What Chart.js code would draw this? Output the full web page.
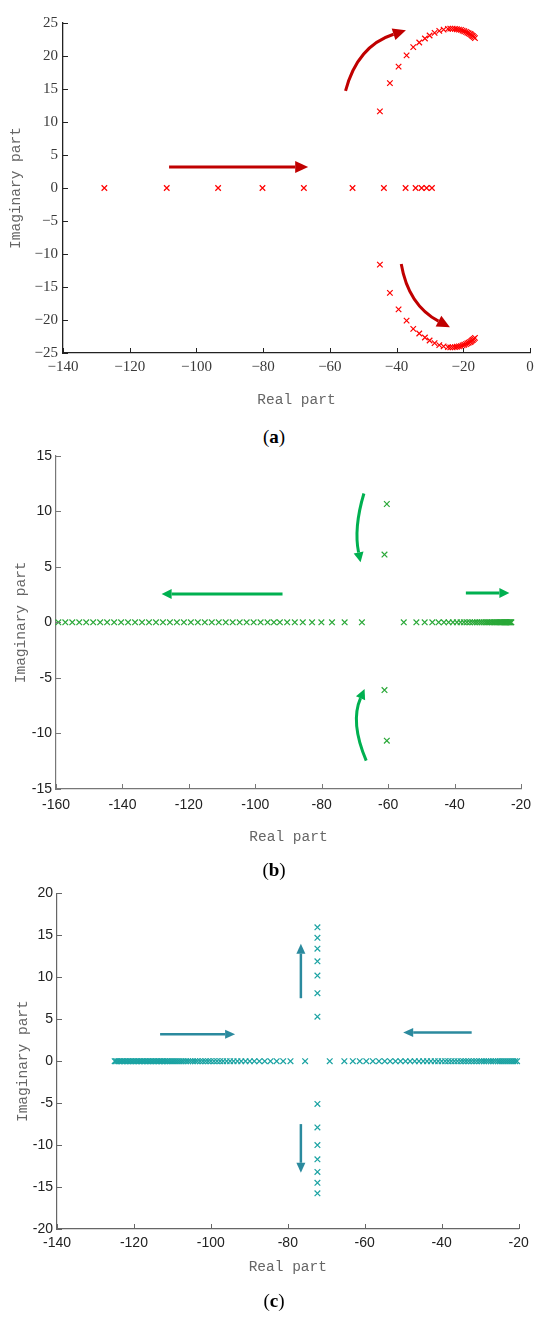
<!DOCTYPE html>
<html>
<head>
<meta charset="utf-8">
<script src="https://cdn.jsdelivr.net/npm/chart.js@4.4.1/dist/chart.umd.min.js"></script>
<style>
  body { margin: 0; background: #fff; width: 550px; height: 1323px; position: relative; overflow: hidden; }
  .panel { position: absolute; left: 0; width: 550px; }
  .cap { position: absolute; left: 0; width: 548px; text-align: center; font-family: "Liberation Serif", serif; font-size: 19px; line-height: 22px; color: #000; }
</style>
</head>
<body>
<div class="panel" style="top:0"><canvas id="chartA" width="550" height="420"></canvas></div>
<div class="cap" style="top:426px">(<b>a</b>)</div>
<div class="panel" style="top:440px"><canvas id="chartB" width="550" height="420"></canvas></div>
<div class="cap" style="top:859px">(<b>b</b>)</div>
<div class="panel" style="top:880px"><canvas id="chartC" width="550" height="400"></canvas></div>
<div class="cap" style="top:1290px">(<b>c</b>)</div>

<script>
// ---- panel (a): real poles and the complex-conjugate branch ----
const realA = [-127.6, -108.9, -93.5, -80.2, -67.8, -53.2, -43.8, -37.3, -34.3, -32.5, -31.0, -29.4];
const branchReA = [-45.0, -42.0, -39.4, -37.0, -35.0, -33.2, -31.5, -30.1, -28.6, -27.2, -25.9, -24.6, -23.9, -23.2,
  -22.5, -21.9, -21.3, -20.7, -20.2, -19.7, -19.2, -18.8, -18.4, -18.0, -17.7, -17.4, -17.1, -16.8, -16.5];
const branchImA = [11.6, 15.9, 18.4, 20.1, 21.35, 22.05, 22.65, 23.1, 23.5, 23.8, 24.0, 24.1, 24.15, 24.15,
  24.1, 24.05, 24.0, 23.95, 23.85, 23.75, 23.65, 23.55, 23.45, 23.35, 23.25, 23.1, 23.0, 22.85, 22.7];

// ---- panel (b) ----
const realB = [-159.3, -157.2, -155.1, -153.0, -150.9, -148.8, -146.7, -144.6, -142.5, -140.4, -138.3, -136.2,
  -134.1, -132.0, -129.9, -127.8, -125.7, -123.6, -121.5, -119.4, -117.3, -115.2, -113.1, -111.0, -108.9,
  -106.8, -104.7, -102.6, -100.5, -98.4, -96.3, -94.4, -92.6, -90.4, -88.1, -85.7, -82.9, -80.1, -76.9,
  -73.1, -67.9, -55.3, -51.5, -49.0, -46.7, -44.8, -43.2, -41.8, -40.5, -39.3, -38.2, -37.2, -36.3, -35.4,
  -34.6, -33.9, -33.2, -32.5, -31.9, -31.3, -30.7, -30.2, -29.7, -29.2, -28.7, -28.3, -27.9, -27.5, -27.1,
  -26.7, -26.4, -26.1, -25.8, -25.5, -25.2, -24.9, -24.7, -24.5, -24.3, -24.1, -23.9, -23.7, -23.5, -23.3,
  -23.1, -22.9];
const complexReB = [-60.4, -61.1, -61.1, -60.4];
const complexImB = [10.65, 6.1, -6.1, -10.65];

// ---- panel (c) ----
const realC = [-125.0, -124.7, -124.3, -123.9, -123.5, -123.1, -122.7, -122.3, -121.9, -121.5, -121.1, -120.7,
  -120.3, -119.9, -119.5, -119.1, -118.7, -118.3, -117.9, -117.5, -117.1, -116.7, -116.3, -115.9, -115.5,
  -115.1, -114.7, -114.3, -113.9, -113.5, -113.1, -112.7, -112.3, -111.9, -111.5, -111.1, -110.6, -110.1,
  -109.6, -109.1, -108.6, -108.1, -107.6, -107.1, -106.5, -105.9, -105.3, -104.7, -104.1, -103.5, -102.8,
  -102.1, -101.4, -100.7, -100.0, -99.2, -98.4, -97.6, -96.8, -95.9, -95.0, -94.1, -93.1, -92.1, -91.0,
  -89.9, -88.7, -87.4, -86.0, -84.5, -82.9, -81.2, -79.3, -75.5, -69.1, -65.3, -63.1, -61.3, -59.6, -57.9,
  -56.3, -54.8, -53.4, -52.0, -50.7, -49.4, -48.2, -47.0, -45.9, -44.8, -43.8, -42.8, -41.8, -40.9, -40.0,
  -39.1, -38.3, -37.5, -36.7, -35.9, -35.1, -34.4, -33.7, -33.0, -32.3, -31.6, -30.9, -30.2, -29.6, -29.0,
  -28.4, -27.8, -27.2, -26.6, -26.0, -25.4, -24.9, -24.4, -23.9, -23.4, -22.9, -22.4, -21.9, -21.4, -20.9,
  -20.4];
const complexReC = -72.3;
const complexImC = [15.95, 14.7, 13.4, 11.9, 10.2, 8.1, 5.3, -5.1, -7.9, -10.0, -11.7, -13.2, -14.5, -15.75];

// direction arrows, in data units (from, optional bend point, to)
const arrowsA = [
  { from: [-108.2, 3.2], to: [-66.5, 3.2] },
  { from: [-55.3, 14.7], via: [-51.8, 21.5], to: [-37.2, 23.9] },
  { from: [-38.6, -11.5], via: [-36.5, -17.7], to: [-24.0, -21.1] }
];
const arrowsB = [
  { from: [-91.8, 2.55], to: [-128.2, 2.55] },
  { from: [-36.6, 2.64], to: [-23.5, 2.64] },
  { from: [-67.3, 11.6], via: [-70.4, 8.5], to: [-68.3, 5.4] },
  { from: [-66.6, -12.45], via: [-71.5, -9.0], to: [-67.1, -6.0] }
];
const arrowsC = [
  { from: [-113.2, 3.2], to: [-93.7, 3.2] },
  { from: [-32.2, 3.4], to: [-50.0, 3.4] },
  { from: [-76.6, 7.5], to: [-76.6, 14.0] },
  { from: [-76.6, -7.5], to: [-76.6, -13.3] }
];

function drawArrow(ctx, xs, ys, a, st) {
  const P = p => [xs.getPixelForValue(p[0]), ys.getPixelForValue(p[1])];
  const s = P(a.from), e = P(a.to);
  const c = a.via ? P(a.via) : s;
  const dx = e[0] - c[0], dy = e[1] - c[1];
  const len = Math.hypot(dx, dy);
  const ux = dx / len, uy = dy / len;
  const bx = e[0] - ux * st.headLen, by = e[1] - uy * st.headLen;
  ctx.strokeStyle = st.color;
  ctx.fillStyle = st.color;
  ctx.lineWidth = st.width;
  ctx.beginPath();
  ctx.moveTo(s[0], s[1]);
  if (a.via) ctx.quadraticCurveTo(c[0], c[1], bx, by);
  else ctx.lineTo(bx, by);
  ctx.stroke();
  ctx.beginPath();
  ctx.moveTo(e[0], e[1]);
  ctx.lineTo(bx - uy * st.headW / 2, by + ux * st.headW / 2);
  ctx.lineTo(bx + uy * st.headW / 2, by - ux * st.headW / 2);
  ctx.closePath();
  ctx.fill();
}

// inward tick marks + arrows
const decor = {
  id: 'decor',
  afterDatasetsDraw(chart, args, opts) {
    const { ctx, chartArea: area, scales: { x, y } } = chart;
    ctx.save();
    ctx.strokeStyle = opts.axisColor;
    ctx.lineWidth = 1;
    x.ticks.forEach(t => {
      const px = Math.round(x.getPixelForValue(t.value)) + 0.5;
      ctx.beginPath(); ctx.moveTo(px, area.bottom); ctx.lineTo(px, area.bottom - 5); ctx.stroke();
    });
    y.ticks.forEach(t => {
      const py = Math.round(y.getPixelForValue(t.value)) + 0.5;
      ctx.beginPath(); ctx.moveTo(area.left, py); ctx.lineTo(area.left + 5, py); ctx.stroke();
    });
    opts.arrows.forEach(a => drawArrow(ctx, x, y, a, opts.arrowStyle));
    ctx.restore();
  }
};

const titleFont = { family: '"Liberation Mono", monospace', size: 14.5 };

function makeChart(id, p) {
  return new Chart(document.getElementById(id), {
    type: 'scatter',
    data: { datasets: p.datasets },
    options: {
      responsive: false,
      animation: false,
      events: [],
      layout: { padding: { top: p.top, right: p.right, left: 0, bottom: 0 } },
      plugins: {
        legend: { display: false },
        tooltip: { enabled: false },
        decor: { axisColor: p.axisColor, arrows: p.arrows, arrowStyle: p.arrowStyle }
      },
      scales: {
        x: {
          type: 'linear', min: p.xMin, max: p.xMax,
          ticks: { stepSize: 20, padding: p.xPad, color: p.tickColor, font: p.tickFont, callback: p.fmt },
          grid: { display: false, drawTicks: false },
          border: { display: true, color: p.axisColor, width: p.axisW },
          title: { display: true, text: 'Real part', color: '#666', font: titleFont, padding: { top: 0, bottom: p.xTitlePad } },
          afterFit: s => { s.height = p.xH; }
        },
        y: {
          type: 'linear', min: p.yMin, max: p.yMax,
          ticks: { stepSize: 5, padding: p.yPad, color: p.tickColor, font: p.tickFont, callback: p.fmt },
          grid: { display: false, drawTicks: false },
          border: { display: true, color: p.axisColor, width: p.axisW },
          title: { display: true, text: 'Imaginary part', color: '#666', font: titleFont, padding: { top: p.yTitlePad, bottom: 0 } },
          afterFit: s => { s.width = p.yW; }
        }
      }
    },
    plugins: [decor]
  });
}

function marks(points, color, r) {
  return { data: points, pointStyle: 'crossRot', pointRadius: r, borderColor: color, borderWidth: 1.2,
           backgroundColor: color, showLine: false, clip: false };
}

const minusFmt = v => String(v).replace('-', '\u2212');
const plainFmt = v => String(v);

// (a)
const ptsA = realA.map(v => ({ x: v, y: 0 }))
  .concat(branchReA.map((v, i) => ({ x: v, y: branchImA[i] })))
  .concat(branchReA.map((v, i) => ({ x: v, y: -branchImA[i] })));
makeChart('chartA', {
  datasets: [marks(ptsA, '#ff0000', 3.9)],
  xMin: -140, xMax: 0, yMin: -25, yMax: 25,
  top: 23, right: 20, xH: 67, yW: 63, xPad: 5, yPad: 5, xTitlePad: 11.3, yTitlePad: 7.9,
  tickColor: '#3a3a3a', tickFont: { family: '"Liberation Serif", serif', size: 15 }, fmt: minusFmt,
  axisColor: '#222', axisW: 1.3,
  arrows: arrowsA, arrowStyle: { color: '#c00000', width: 3, headLen: 13, headW: 12 }
});

// (b)
const ptsB = realB.map(v => ({ x: v, y: 0 }))
  .concat(complexReB.map((v, i) => ({ x: v, y: complexImB[i] })));
makeChart('chartB', {
  datasets: [marks(ptsB, '#2aa838', 4.0)],
  xMin: -160, xMax: -20, yMin: -15, yMax: 15,
  top: 15.7, right: 29, xH: 71, yW: 56, xPad: 8, yPad: 4, xTitlePad: 14.6, yTitlePad: 12.3,
  tickColor: '#222', tickFont: { family: '"Liberation Sans", Arial, sans-serif', size: 14 }, fmt: plainFmt,
  axisColor: '#777', axisW: 1.2,
  arrows: arrowsB, arrowStyle: { color: '#00b050', width: 3, headLen: 10, headW: 10 }
});

// (c)
const ptsC = realC.map(v => ({ x: v, y: 0 }))
  .concat(complexImC.map(v => ({ x: complexReC, y: v })));
makeChart('chartC', {
  datasets: [marks(ptsC, '#1ba3a3', 4.0)],
  xMin: -140, xMax: -20, yMin: -20, yMax: 20,
  top: 13.3, right: 31.4, xH: 51, yW: 57, xPad: 6, yPad: 4, xTitlePad: 4.6, yTitlePad: 14,
  tickColor: '#222', tickFont: { family: '"Liberation Sans", Arial, sans-serif', size: 14 }, fmt: plainFmt,
  axisColor: '#666', axisW: 1.2,
  arrows: arrowsC, arrowStyle: { color: '#2b8a9e', width: 2.5, headLen: 10, headW: 9 }
});
</script>
</body>
</html>
